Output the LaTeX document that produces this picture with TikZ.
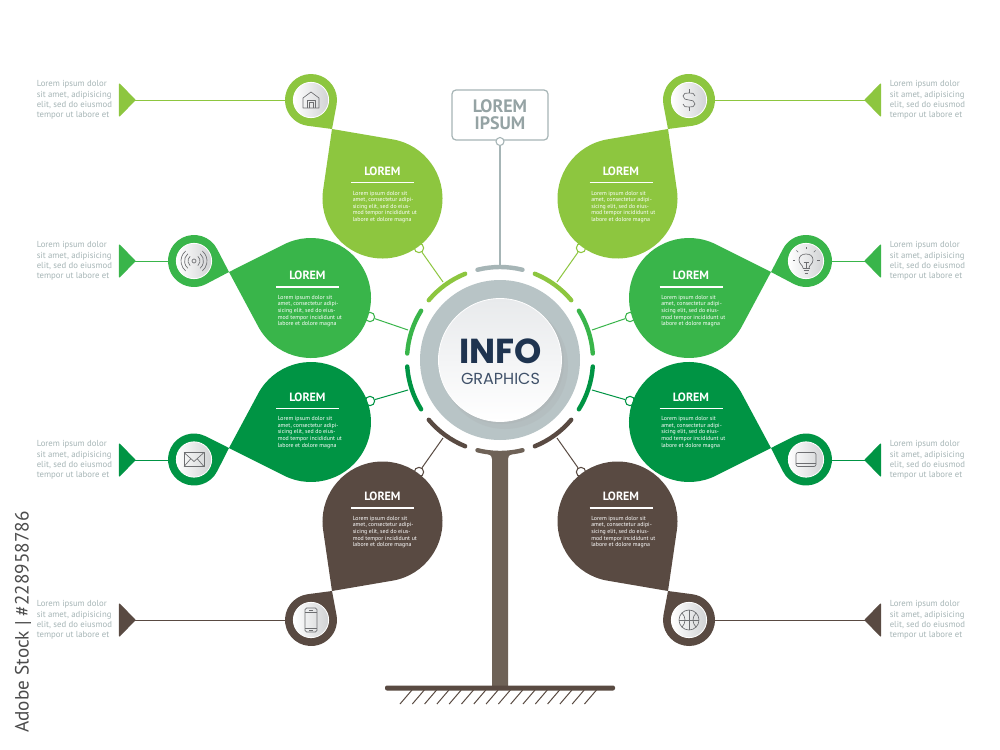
\documentclass[tikz,border=0pt]{standalone}
\usepackage{fontspec}
\setmainfont{PT Sans}
\newfontfamily\infofont{Poppins}
\usetikzlibrary{calc}
\definecolor{cLime}{HTML}{8DC63F}
\definecolor{cGreen}{HTML}{39B54A}
\definecolor{cDark}{HTML}{009444}
\definecolor{cBrown}{HTML}{594A42}
\definecolor{cTaupe}{HTML}{6E6257}
\definecolor{cGrayL}{HTML}{A6B5B6}
\definecolor{cRing}{HTML}{B8C4C6}
\definecolor{cNavy}{HTML}{1F3450}
\definecolor{cIcon}{HTML}{6D6E71}
\definecolor{cFace}{HTML}{E8EAEC}
\newcommand{\fs}[1]{\fontsize{#1}{#1}\selectfont}
\tikzset{
  x=0.75pt,y=-0.75pt,
  faceshape/.style={circle,minimum size=26.5pt,inner sep=0pt,draw=white,line width=0.6pt,left color=white,right color=cFace!90!black},
  icon/.style={draw=cIcon,line width=0.5pt,fill=none,line join=round},
  sidetext/.style={font=\fontsize{6.55}{7.65}\selectfont,text=cGrayL,align=left,anchor=west,inner sep=0pt},
  headtext/.style={font=\fs{9}\bfseries,text=white,inner sep=0pt},
  bodytext/.style={font=\fontsize{4.4}{4.9}\selectfont,text=white,align=left,anchor=north west,inner sep=0pt},
  ringdot/.style={circle,minimum size=7pt,inner sep=0pt,draw=#1,line width=0.8pt,fill=white},
  link/.style={draw=#1,line width=0.75pt},
  segment/.style={draw=#1,line width=3.3pt,line cap=round},
  flag/.style={fill=#1,draw=#1,line width=0.8pt,line join=round}
}
\newcommand{\petal}[5]{% colour, cx, cy, tipx, tipy
  \pgfmathsetmacro{\ang}{atan2(#3-#5,#4-#2)}%
  \pgfmathsetmacro{\dist}{veclen(#4-#2,#5-#3)}%
  \pgfmathsetmacro{\rad}{60}%
  \pgfmathsetmacro{\half}{acos(\rad/\dist)}%
  \fill[#1] (#4,#5)
    -- ({#2+\rad*cos(\ang+\half)},{#3-\rad*sin(\ang+\half)})
    arc[start angle=\ang+\half,delta angle=360-2*\half,x radius=\rad,y radius=-\rad]
    -- cycle;%
}
\newcommand{\pin}[6]{% name colour cx cy tipx tipy
  \pgfmathsetmacro{\ang}{atan2(#4-#6,#5-#3)}%
  \pgfmathsetmacro{\dist}{veclen(#5-#3,#6-#4)}%
  \pgfmathsetmacro{\half}{acos(26/\dist)}%
  \fill[#2] (#5,#6)
    -- ({#3+26*cos(\ang+\half)},{#4-26*sin(\ang+\half)})
    arc[start angle=\ang+\half,delta angle=360-2*\half,x radius=26,y radius=-26]
    -- cycle;%
  \node[faceshape] (#1) at (#3,#4) {};%
}
\begin{document}
\begin{tikzpicture}
\useasboundingbox (0,0) rectangle (1000,750);
\fill[white] (0,0) rectangle (1000,750);

% side flags and their lines
\foreach \nm/\col/\yy/\px in {fa/cLime/100/311,fb/cGreen/261/194,fc/cDark/460/194,fd/cBrown/620/311}{
  \coordinate (\nm p) at (\px,\yy);
  \coordinate (\nm q) at (1000-\px,\yy);
  \node[inner sep=0pt,minimum size=0pt] (\nm L) at (135,\yy) {};
  \node[inner sep=0pt,minimum size=0pt] (\nm R) at (865,\yy) {};
  \draw[link=\col] (\nm L) -- (\nm p);
  \draw[link=\col] (\nm R) -- (\nm q);
  \filldraw[flag=\col] (119.5,\yy-16) -- (135,\yy) -- (119.5,\yy+16) -- cycle;
  \filldraw[flag=\col] (880.5,\yy-16) -- (865,\yy) -- (880.5,\yy+16) -- cycle;
}

% side texts
\foreach \yy in {100,261,460,620}{
  \node[sidetext] (sl\yy) at (36.5,\yy) {Lorem ipsum dolor\\sit amet, adipisicing\\elit, sed do eiusmod\\tempor ut labore et};
  \node[sidetext] (sr\yy) at (889.5,\yy) {Lorem ipsum dolor\\sit amet, adipisicing\\elit, sed do eiusmod\\tempor ut labore et};
}

% central ring
\coordinate (mid) at (500,360);
\foreach \a/\col in {90/cGrayL,54/cLime,126/cLime,18/cGreen,162/cGreen,-18/cDark,198/cDark,-54/cBrown,234/cBrown,270/cTaupe}{
  \draw[segment=\col] ($(mid)+({93*cos(\a-14)},{-93*sin(\a-14)})$) arc[start angle=\a-14,delta angle=28,x radius=93,y radius=-93];
}
% trunk and ground
\fill[cTaupe] (492,459) .. controls (492,456.5) and (491,455) .. (488,454) -- (512,454) .. controls (509,455) and (508,456.5) .. (508,459) -- (508,688) -- (492,688) -- cycle;
\fill[cBrown,rounded corners=1.5pt] (385,685.5) rectangle (615,690.5);
\foreach \i in {0,...,15}{
  \draw[cBrown,line width=0.75pt] ({412+\i*12.3},690) -- ({400+\i*12.3},704);
}

% connector rings and lines
\foreach \nm/\col/\rx/\ry/\ax/\ay in {
 ra/cLime/419/248/443/282, rb/cGreen/370/317/408/330, rc/cDark/370/401/408/390, rd/cBrown/419/472/443/438,
 re/cLime/581/248/557/282, rf/cGreen/630/317/592/330, rg/cDark/630/401/592/390, rh/cBrown/581/472/557/438}{
  \node[ringdot=\col] (\nm) at (\rx,\ry) {};
  \coordinate (\nm e) at (\ax,\ay);
  \draw[link=\col] (\nm) -- (\nm e);
}

% petals
\petal{cLime}{382.5}{198.5}{332}{129}
\petal{cGreen}{311}{298}{229}{272}
\petal{cDark}{311}{422}{229}{448}
\petal{cBrown}{382.5}{521.5}{332}{591}
\petal{cLime}{617.5}{198.5}{668}{129}
\petal{cGreen}{689}{298}{771}{272}
\petal{cDark}{689}{422}{771}{448}
\petal{cBrown}{617.5}{521.5}{668}{591}

\pin{p1}{cLime}{311}{100}{332}{129}
\pin{p2}{cGreen}{194}{261}{229}{272}
\pin{p3}{cDark}{194}{459.5}{229}{448}
\pin{p4}{cBrown}{311}{620}{332}{591}
\pin{p5}{cLime}{689}{100}{668}{129}
\pin{p6}{cGreen}{806}{261}{771}{272}
\pin{p7}{cDark}{806}{459.5}{771}{448}
\pin{p8}{cBrown}{689}{620}{668}{591}

% petal texts
\foreach \nm/\hx/\hy/\ty in {
 ta/382.5/171/182.7, tb/307.5/275/287, tc/307.5/397/408.5, td/382.5/496/508,
 te/621/171/182.7, tf/691/275/287, tg/691/397/408.5, th/621/496/508}{
  \node[headtext] (\nm h) at (\hx,\hy) {LOREM};
  \draw[white,line width=1pt] (\hx-31.5,\ty) -- (\hx+31.5,\ty);
  \node[bodytext] (\nm b) at (\hx-30,\ty+8) {Lorem ipsum dolor sit\\amet, consectetur adipi-\\sicing elit, sed do eius-\\mod tempor incididunt ut\\labore et dolore magna};
}

% centre disc
\fill[cRing] (mid) circle[radius=80];
\fill[black!35,opacity=0.18] (505,366) circle[radius=63];
\fill[black!35,opacity=0.18] (502,362) circle[radius=62];
\shade[top color=cFace,bottom color=white,draw=white,line width=0.6pt] (mid) circle[radius=61.5];
\node[inner sep=0pt,text=cNavy,font=\infofont\fs{26}\bfseries] (info) at (500.5,351) {INFO};
\node[inner sep=0pt,text=cNavy!85,font=\infofont\fs{12}] (graph) at (500.5,379) {GRAPHICS};

% label box
\node[draw=cGrayL,line width=0.9pt,rounded corners=3pt,minimum width=72pt,minimum height=37.5pt,inner sep=0pt,fill=white,
  align=center,text=cGrayL!90!black,font=\fontsize{13.5}{12.5}\selectfont\bfseries] (lbl) at (500,115) {LOREM\\IPSUM};
\node[ringdot=cGrayL,minimum size=6pt] (lr) at (500,141.5) {};
\coordinate (lend) at (500,266);
\draw[draw=cGrayL,line width=1pt] (lr) -- (lend);

% icons
\begin{scope}[shift={(p1)}] % house
 \draw[icon] (-8,8) -- (-8,-2) -- (0,-8) -- (8,-2) -- (8,8) -- cycle;
 \draw[icon] (-4,8) -- (-4,0) -- (4,0) -- (4,8);
 \draw[icon] (-2,8) -- (-2,2) -- (2,2) -- (2,8);
\end{scope}
\begin{scope}[shift={(p2)}] % signal
 \draw[icon] (0,0) circle[radius=2];
 \foreach \r in {6,9.5,13}{
  \draw[icon] ({\r*cos(-50)},{\r*sin(-50)}) arc[start angle=50,delta angle=-100,x radius=\r,y radius=-\r];
  \draw[icon] ({-\r*cos(-50)},{\r*sin(-50)}) arc[start angle=130,delta angle=100,x radius=\r,y radius=-\r];
 }
\end{scope}
\begin{scope}[shift={(p3)}] % envelope
 \draw[icon] (-10,-7) rectangle (10,7);
 \draw[icon] (-10,-7) -- (0,2) -- (10,-7);
 \draw[icon] (-10,7) -- (-3,-1) (10,7) -- (3,-1);
\end{scope}
\begin{scope}[shift={(p4)}] % phone
 \draw[icon,rounded corners=1.2pt] (-6,-12) rectangle (6,12);
 \draw[icon] (-6,-8) -- (6,-8) (-6,8) -- (6,8) (-2,-10) -- (2,-10) (-2,10) -- (2,10);
\end{scope}
\begin{scope}[shift={(p5)}] % dollar
 \draw[icon] (0,-11) -- (0,-7) (0,7) -- (0,11);
 \draw[icon] (6,-4) .. controls (6,-7) and (3,-7) .. (0,-7) .. controls (-3,-7) and (-6,-7) .. (-6,-4) .. controls (-6,-1) and (-3,0) .. (0,0) .. controls (3,0) and (6,1) .. (6,4) .. controls (6,7) and (3,7) .. (0,7) .. controls (-3,7) and (-6,7) .. (-6,4);
\end{scope}
\begin{scope}[shift={(p6)}] % bulb
 \draw[icon] (-3,7) .. controls (-3,4) and (-7,3) .. (-7,-1) .. controls (-7,-5) and (-4,-7) .. (0,-7) .. controls (4,-7) and (7,-5) .. (7,-1) .. controls (7,3) and (3,4) .. (3,7);
 \draw[icon] (-3.5,7) -- (3.5,7) (-2.5,9.5) -- (2.5,9.5) (-1.5,12) -- (1.5,12);
 \draw[icon] (0,7) -- (0,1) (-2.5,1) -- (2.5,1);
 \foreach \a in {0,45,90,135,180}{
  \draw[icon] ({11*cos(\a)},{-1-11*sin(\a)}) -- ({13.5*cos(\a)},{-1-13.5*sin(\a)});
 }
\end{scope}
\begin{scope}[shift={(p7)}] % laptop
 \draw[icon,rounded corners=1.5pt] (-10,-7) rectangle (10,7);
 \draw[icon] (-10,4) -- (10,4);
\end{scope}
\begin{scope}[shift={(p8)}] % basketball
 \draw[icon] (0,0) circle[radius=10];
 \draw[icon] (0,-10) -- (0,10) (-10,0) -- (10,0);
 \draw[icon] (-7,-7) .. controls (-3,-3) and (-3,3) .. (-7,7);
 \draw[icon] (7,-7) .. controls (3,-3) and (3,3) .. (7,7);
\end{scope}

% stock line
\node[rotate=90,inner sep=0pt,text=black!70,font=\fs{14.4}] (stock) at (23,622) {Adobe Stock | \#228958786};
\end{tikzpicture}
\end{document}
